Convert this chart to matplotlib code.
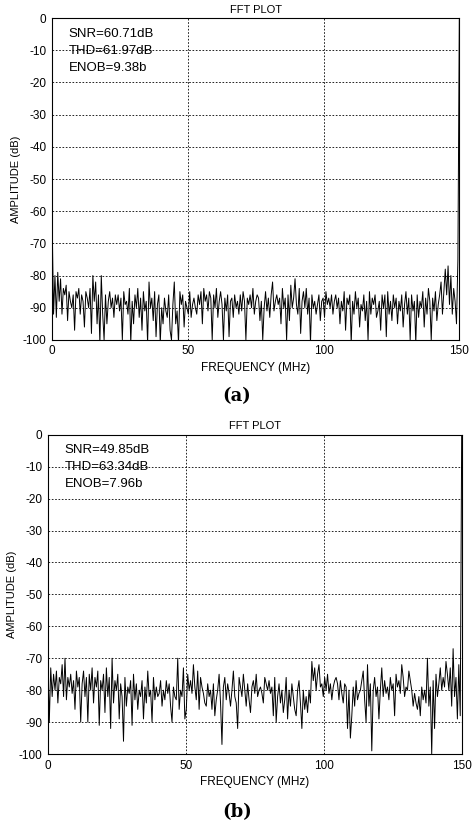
import numpy as np
import matplotlib.pyplot as plt

plt.rcParams['font.family'] = ['Liberation Sans', 'DejaVu Sans']
plt.rcParams['axes.unicode_minus'] = False

# spectrum (a), 0 to 150 MHz
amp_a = [
    -63, -92, -80, -93, -79, -88, -81, -92, -84, -86, -83, -94, -85, -88, -90, -86, -97, -85, -87, -84,
    -92, -86, -88, -96, -85, -87, -90, -84, -98, -80, -88, -82, -95, -86, -101, -80, -92, -100, -86, -95,
    -88, -85, -90, -87, -93, -86, -89, -86, -91, -87, -100, -85, -89, -88, -92, -84, -101, -88, -95, -86,
    -90, -84, -93, -87, -97, -85, -91, -88, -101, -82, -90, -87, -94, -85, -99, -89, -86, -101, -90, -95,
    -87, -91, -93, -86, -97, -100, -89, -82, -95, -91, -101, -85, -89, -86, -96, -88, -90, -92, -85, -93,
    -89, -87, -90, -92, -86, -89, -85, -95, -84, -88, -86, -91, -85, -87, -100, -86, -90, -84, -93, -88,
    -85, -89, -100, -87, -91, -86, -99, -88, -87, -93, -86, -90, -88, -92, -86, -91, -85, -88, -100, -87,
    -89, -86, -90, -84, -92, -88, -86, -87, -94, -88, -100, -90, -85, -91, -87, -93, -86, -82, -91, -88,
    -86, -89, -87, -95, -84, -90, -87, -100, -86, -94, -83, -90, -87, -81, -89, -92, -84, -98, -88, -85,
    -90, -84, -92, -87, -101, -86, -90, -88, -92, -89, -86, -94, -88, -87, -93, -85, -89, -87, -90, -86,
    -92, -88, -86, -90, -87, -95, -88, -91, -85, -97, -87, -89, -86, -101, -88, -92, -85, -90, -87, -96,
    -89, -91, -86, -94, -88, -100, -85, -92, -87, -89, -86, -93, -91, -88, -97, -86, -90, -86, -99, -85,
    -92, -88, -94, -86, -90, -87, -95, -88, -91, -86, -96, -89, -85, -92, -87, -100, -86, -91, -88, -101,
    -86, -93, -88, -90, -85, -96, -87, -92, -84, -88, -100, -87, -91, -85, -94, -89, -86, -82, -92, -85,
    -78, -86, -77, -89, -80, -92, -84, -88, -95, -75, -0.5,
]
# spectrum (b), 0 to 150 MHz
amp_b = [
    -70, -90, -73, -82, -75, -80, -74, -84, -76, -78, -72, -82, -70, -83, -76, -79, -75, -81, -77, -86,
    -74, -79, -76, -90, -78, -74, -82, -76, -90, -75, -80, -73, -84, -76, -79, -74, -91, -77, -80, -75,
    -87, -73, -82, -76, -92, -70, -84, -77, -80, -75, -89, -78, -82, -96, -76, -85, -79, -81, -77, -91,
    -75, -83, -78, -86, -80, -82, -77, -89, -79, -84, -74, -82, -80, -90, -76, -83, -79, -82, -81, -77,
    -85, -80, -83, -77, -81, -78, -85, -90, -79, -82, -83, -70, -86, -80, -82, -73, -89, -86, -75, -80,
    -77, -81, -72, -79, -83, -74, -86, -76, -79, -81, -84, -85, -78, -82, -80, -86, -78, -88, -83, -80,
    -75, -84, -97, -79, -76, -83, -78, -81, -85, -80, -74, -82, -84, -92, -76, -79, -82, -75, -80, -85,
    -78, -83, -87, -79, -77, -81, -75, -82, -80, -79, -81, -84, -76, -78, -80, -77, -81, -79, -88, -76,
    -90, -82, -78, -84, -80, -87, -83, -76, -89, -80, -85, -78, -82, -86, -88, -80, -77, -84, -92, -80,
    -86, -82, -87, -80, -84, -71, -77, -73, -80, -75, -72, -79, -78, -82, -76, -80, -75, -81, -78, -83,
    -79, -77, -76, -78, -83, -77, -81, -84, -78, -79, -92, -80, -95, -88, -79, -85, -77, -83, -81, -80,
    -77, -74, -83, -90, -72, -85, -78, -99, -80, -76, -82, -79, -89, -80, -73, -82, -77, -81, -79, -83,
    -76, -80, -78, -88, -75, -79, -77, -81, -72, -76, -82, -79, -80, -74, -77, -80, -85, -81, -84, -86,
    -82, -88, -79, -83, -80, -84, -70, -85, -79, -100, -77, -92, -75, -82, -78, -73, -80, -76, -79, -71,
    -75, -80, -73, -85, -67, -82, -76, -89, -72, -88, -0.5,
]
freq_a = np.linspace(0, 150, len(amp_a))
freq_b = np.linspace(0, 150, len(amp_b))

fig = plt.figure(figsize=(4.74, 8.25), dpi=100)
ax1 = fig.add_axes([0.110, 0.588, 0.859, 0.390])
ax2 = fig.add_axes([0.101, 0.086, 0.873, 0.387])

panels = [
    (ax1, freq_a, amp_a, ['SNR=60.71dB', 'THD=61.97dB', 'ENOB=9.38b'], '(a)', 0.514),
    (ax2, freq_b, amp_b, ['SNR=49.85dB', 'THD=63.34dB', 'ENOB=7.96b'], '(b)', 0.010),
]
for ax, f, a, notes, tag, ytag in panels:
    ax.plot(f, a, color='black', linewidth=0.7)
    ax.set_xlim(0, 150)
    ax.set_ylim(-100, 0)
    ax.set_xticks([0, 50, 100, 150])
    ax.set_yticks(range(-100, 1, 10))
    ax.tick_params(labelsize=8.5, length=0, pad=4)
    ax.grid(True, linestyle=(0, (2, 2)), color='black', linewidth=0.6)
    ax.set_xlabel('FREQUENCY (MHz)', fontsize=8.5, labelpad=3)
    ax.set_ylabel('AMPLITUDE (dB)', fontsize=8, labelpad=1)
    ax.set_title('FFT PLOT', fontsize=8, pad=4)
    ax.text(6, -3, '\n'.join(notes), fontsize=9.5, va='top', linespacing=1.55)
    fig.text(0.5, ytag, tag, ha='center', fontsize=13, fontweight='bold', family='DejaVu Serif')

fig.savefig('out.png', dpi=100)
